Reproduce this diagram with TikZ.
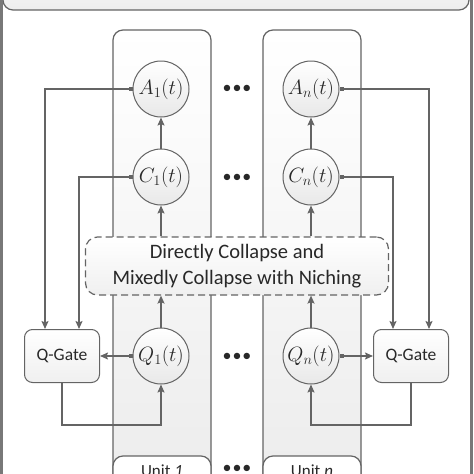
\documentclass[tikz,border=0pt]{standalone}
\usepackage{fontspec}
\setmainfont{Carlito}
\usetikzlibrary{arrows.meta}
\definecolor{lc}{RGB}{100,100,100}
\definecolor{tc}{RGB}{40,40,40}
\definecolor{fr}{RGB}{120,120,120}
\begin{document}
\begin{tikzpicture}[x=1pt,y=-1pt,
  line/.style={draw=lc,line width=1.4pt},
  arr/.style={line,-{Stealth[length=8pt,width=7pt,inset=1.5pt]}},
  sarr/.style={line,{Rectangle[length=4pt,width=3.4pt]}-{Stealth[length=8pt,width=7pt,inset=1.5pt]}},
  circ/.style={circle,draw=lc,line width=1pt,minimum size=56pt,inner sep=0pt,
    top color=white,bottom color=gray!18,text=tc,font=\fontsize{21}{21}\selectfont},
  gate/.style={rectangle,rounded corners=8pt,draw=lc,line width=1pt,minimum width=75pt,
    minimum height=53pt,top color=white,bottom color=gray!12,text=tc,font=\fontsize{17.5}{17.5}\selectfont},
  coll/.style={rectangle,rounded corners=12pt,draw=lc,line width=1.2pt,dash pattern=on 7pt off 4pt,
    minimum width=303pt,minimum height=58pt,align=center,top color=white,bottom color=gray!12,
    text=tc,font=\fontsize{20.5}{26}\selectfont,inner sep=0pt},
  colbox/.style={draw=lc,line width=1.2pt,rounded corners=10pt,top color=white,bottom color=gray!16},
  unitbox/.style={rectangle,draw=lc,line width=1.2pt,rounded corners=10pt,fill=white,
    minimum width=98pt,minimum height=30pt,text=tc,font=\fontsize{17}{17}\selectfont},
  dotsn/.style={text=tc,font=\fontsize{18}{18}\selectfont,inner sep=0pt}
]
\useasboundingbox (0,0) rectangle (474,474);
\clip (0,0) rectangle (474,474);
% top box
\draw[line,line width=1.2pt,rounded corners=10pt,top color=gray!4,bottom color=gray!14] (3,-30) rectangle (469,10);
% outer frame
\draw[draw=fr,line width=3pt] (1.5,-10) -- (1.5,490);
\draw[draw=fr,line width=3pt] (471,-10) -- (471,490);
% columns
\draw[colbox] (113,30) rectangle (211,520);
\draw[colbox] (263,30) rectangle (361,520);
\node[unitbox] (u1) at (162,471) {Unit \textit{1}};
\node[unitbox] (un) at (312,471) {Unit \textit{n}};
% circles
\node[circ] (A1) at (161,89) {$A_1(t)$};
\node[circ] (C1) at (161,177) {$C_1(t)$};
\node[circ] (Q1) at (161,356) {$Q_1(t)$};
\node[circ] (An) at (311,89) {$A_n(t)$};
\node[circ] (Cn) at (311,177) {$C_n(t)$};
\node[circ] (Qn) at (311,356) {$Q_n(t)$};
% collapse box
\node[coll] (cb) at (237,266) {Directly Collapse and\\Mixedly Collapse with Niching};
% gates
\node[gate] (gL) at (62,356) {Q-Gate};
\node[gate] (gR) at (411,356) {Q-Gate};
% dots
\node[dotsn] (d1) at (237,89) {\textbullet\kern1pt\textbullet\kern1pt\textbullet};
\node[dotsn] (d2) at (237,178) {\textbullet\kern1pt\textbullet\kern1pt\textbullet};
\node[dotsn] (d3) at (237,357) {\textbullet\kern1pt\textbullet\kern1pt\textbullet};
\node[dotsn] (d4) at (237,469) {\textbullet\kern1pt\textbullet\kern1pt\textbullet};
% connectors left
\draw[sarr] (A1.west) -| ([xshift=-17pt]gL.north);
\draw[sarr] (C1.west) -| ([xshift=17pt]gL.north);
\draw[sarr] (Q1.west) -- (gL.east);
\draw[arr] (gL.south) -- ++(0,42) -| (Q1.south);
\draw[arr] (Q1.north) -- (Q1.north |- cb.south);
\draw[arr] (C1.south |- cb.north) -- (C1.south);
\draw[arr] (C1.north) -- (A1.south);
% connectors right
\draw[sarr] (An.east) -| ([xshift=18pt]gR.north);
\draw[sarr] (Cn.east) -| ([xshift=-18pt]gR.north);
\draw[sarr] (Qn.east) -- (gR.west);
\draw[arr] (gR.south) -- ++(0,42) -| (Qn.south);
\draw[arr] (Qn.north) -- (Qn.north |- cb.south);
\draw[arr] (Cn.south |- cb.north) -- (Cn.south);
\draw[arr] (Cn.north) -- (An.south);
\end{tikzpicture}
\end{document}
